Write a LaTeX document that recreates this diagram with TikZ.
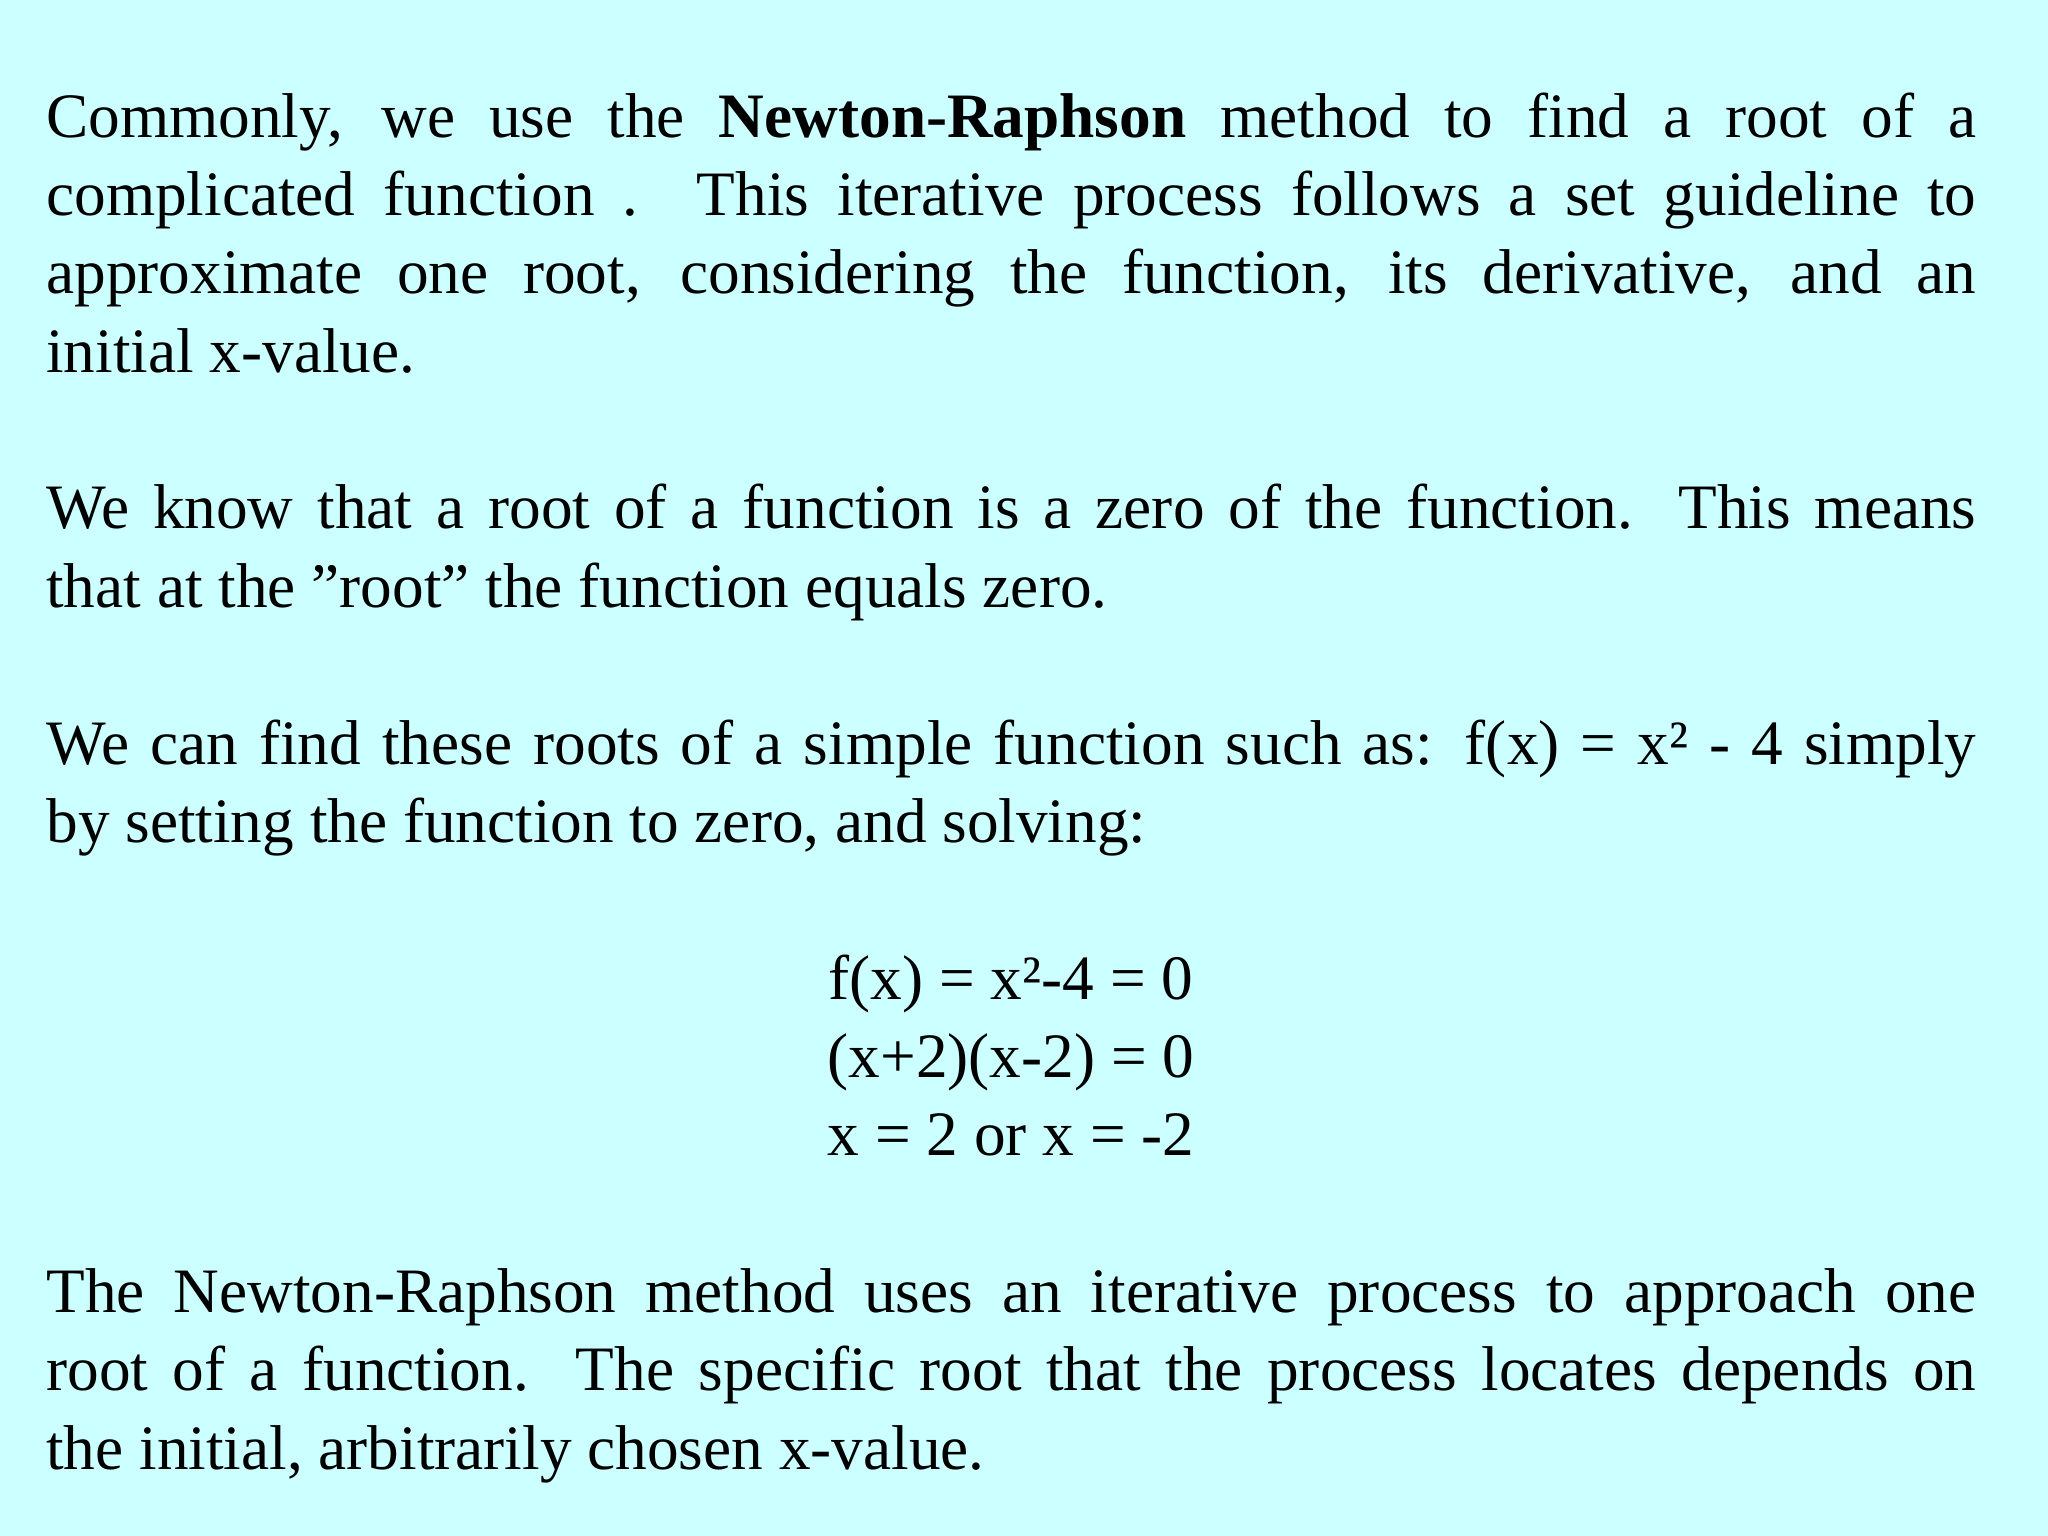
\documentclass[tikz,border=0pt]{standalone}
\usepackage{fontspec}
\setmainfont{Liberation Serif}
\definecolor{bg}{HTML}{CCFFFF}
\newlength\tw \setlength\tw{19.30cm}
\tikzset{ln/.style={anchor=base west,inner sep=0pt,font=\fontsize{18pt}{22pt}\selectfont},
 eq/.style={anchor=base,inner sep=0pt,font=\fontsize{18pt}{22pt}\selectfont}}
\newcommand\jl[1]{\makebox[\tw][s]{#1}}
\begin{document}
\begin{tikzpicture}[x=1cm,y=-1cm]
\fill[bg] (0,0) rectangle (20.48,15.36);
\useasboundingbox (0,0) rectangle (20.48,15.36);
\def\X{0.457}
\node[ln] (l1) at (\X,1.371) {\jl{Commonly, we use the \textbf{Newton-Raphson} method to find a root of a}};
\node[ln] (l2) at (\X,2.155) {\jl{complicated function . This iterative process follows a set guideline to}};
\node[ln] (l3) at (\X,2.938) {\jl{approximate one root, considering the function, its derivative, and an}};
\node[ln] (l4) at (\X,3.722) {initial x-value.};
\node[ln] (l5) at (\X,5.289) {\jl{We know that a root of a function is a zero of the function. This means}};
\node[ln] (l6) at (\X,6.072) {that at the "root" the function equals zero.};
\node[ln] (l7) at (\X,7.640) {\jl{We can find these roots of a simple function such as: f(x) = x² - 4 simply}};
\node[ln] (l8) at (\X,8.423) {by setting the function to zero, and solving:};
\node[eq] (e1) at (10.11,9.991) {f(x) = x²-4 = 0};
\node[eq] (e2) at (10.11,10.774) {(x+2)(x-2) = 0};
\node[eq] (e3) at (10.11,11.558) {x = 2 or x = -2};
\node[ln] (l9) at (\X,13.125) {\jl{The Newton-Raphson method uses an iterative process to approach one}};
\node[ln] (l10) at (\X,13.909) {\jl{root of a function. The specific root that the process locates depends on}};
\node[ln] (l11) at (\X,14.692) {the initial, arbitrarily chosen x-value.};
\end{tikzpicture}
\end{document}
